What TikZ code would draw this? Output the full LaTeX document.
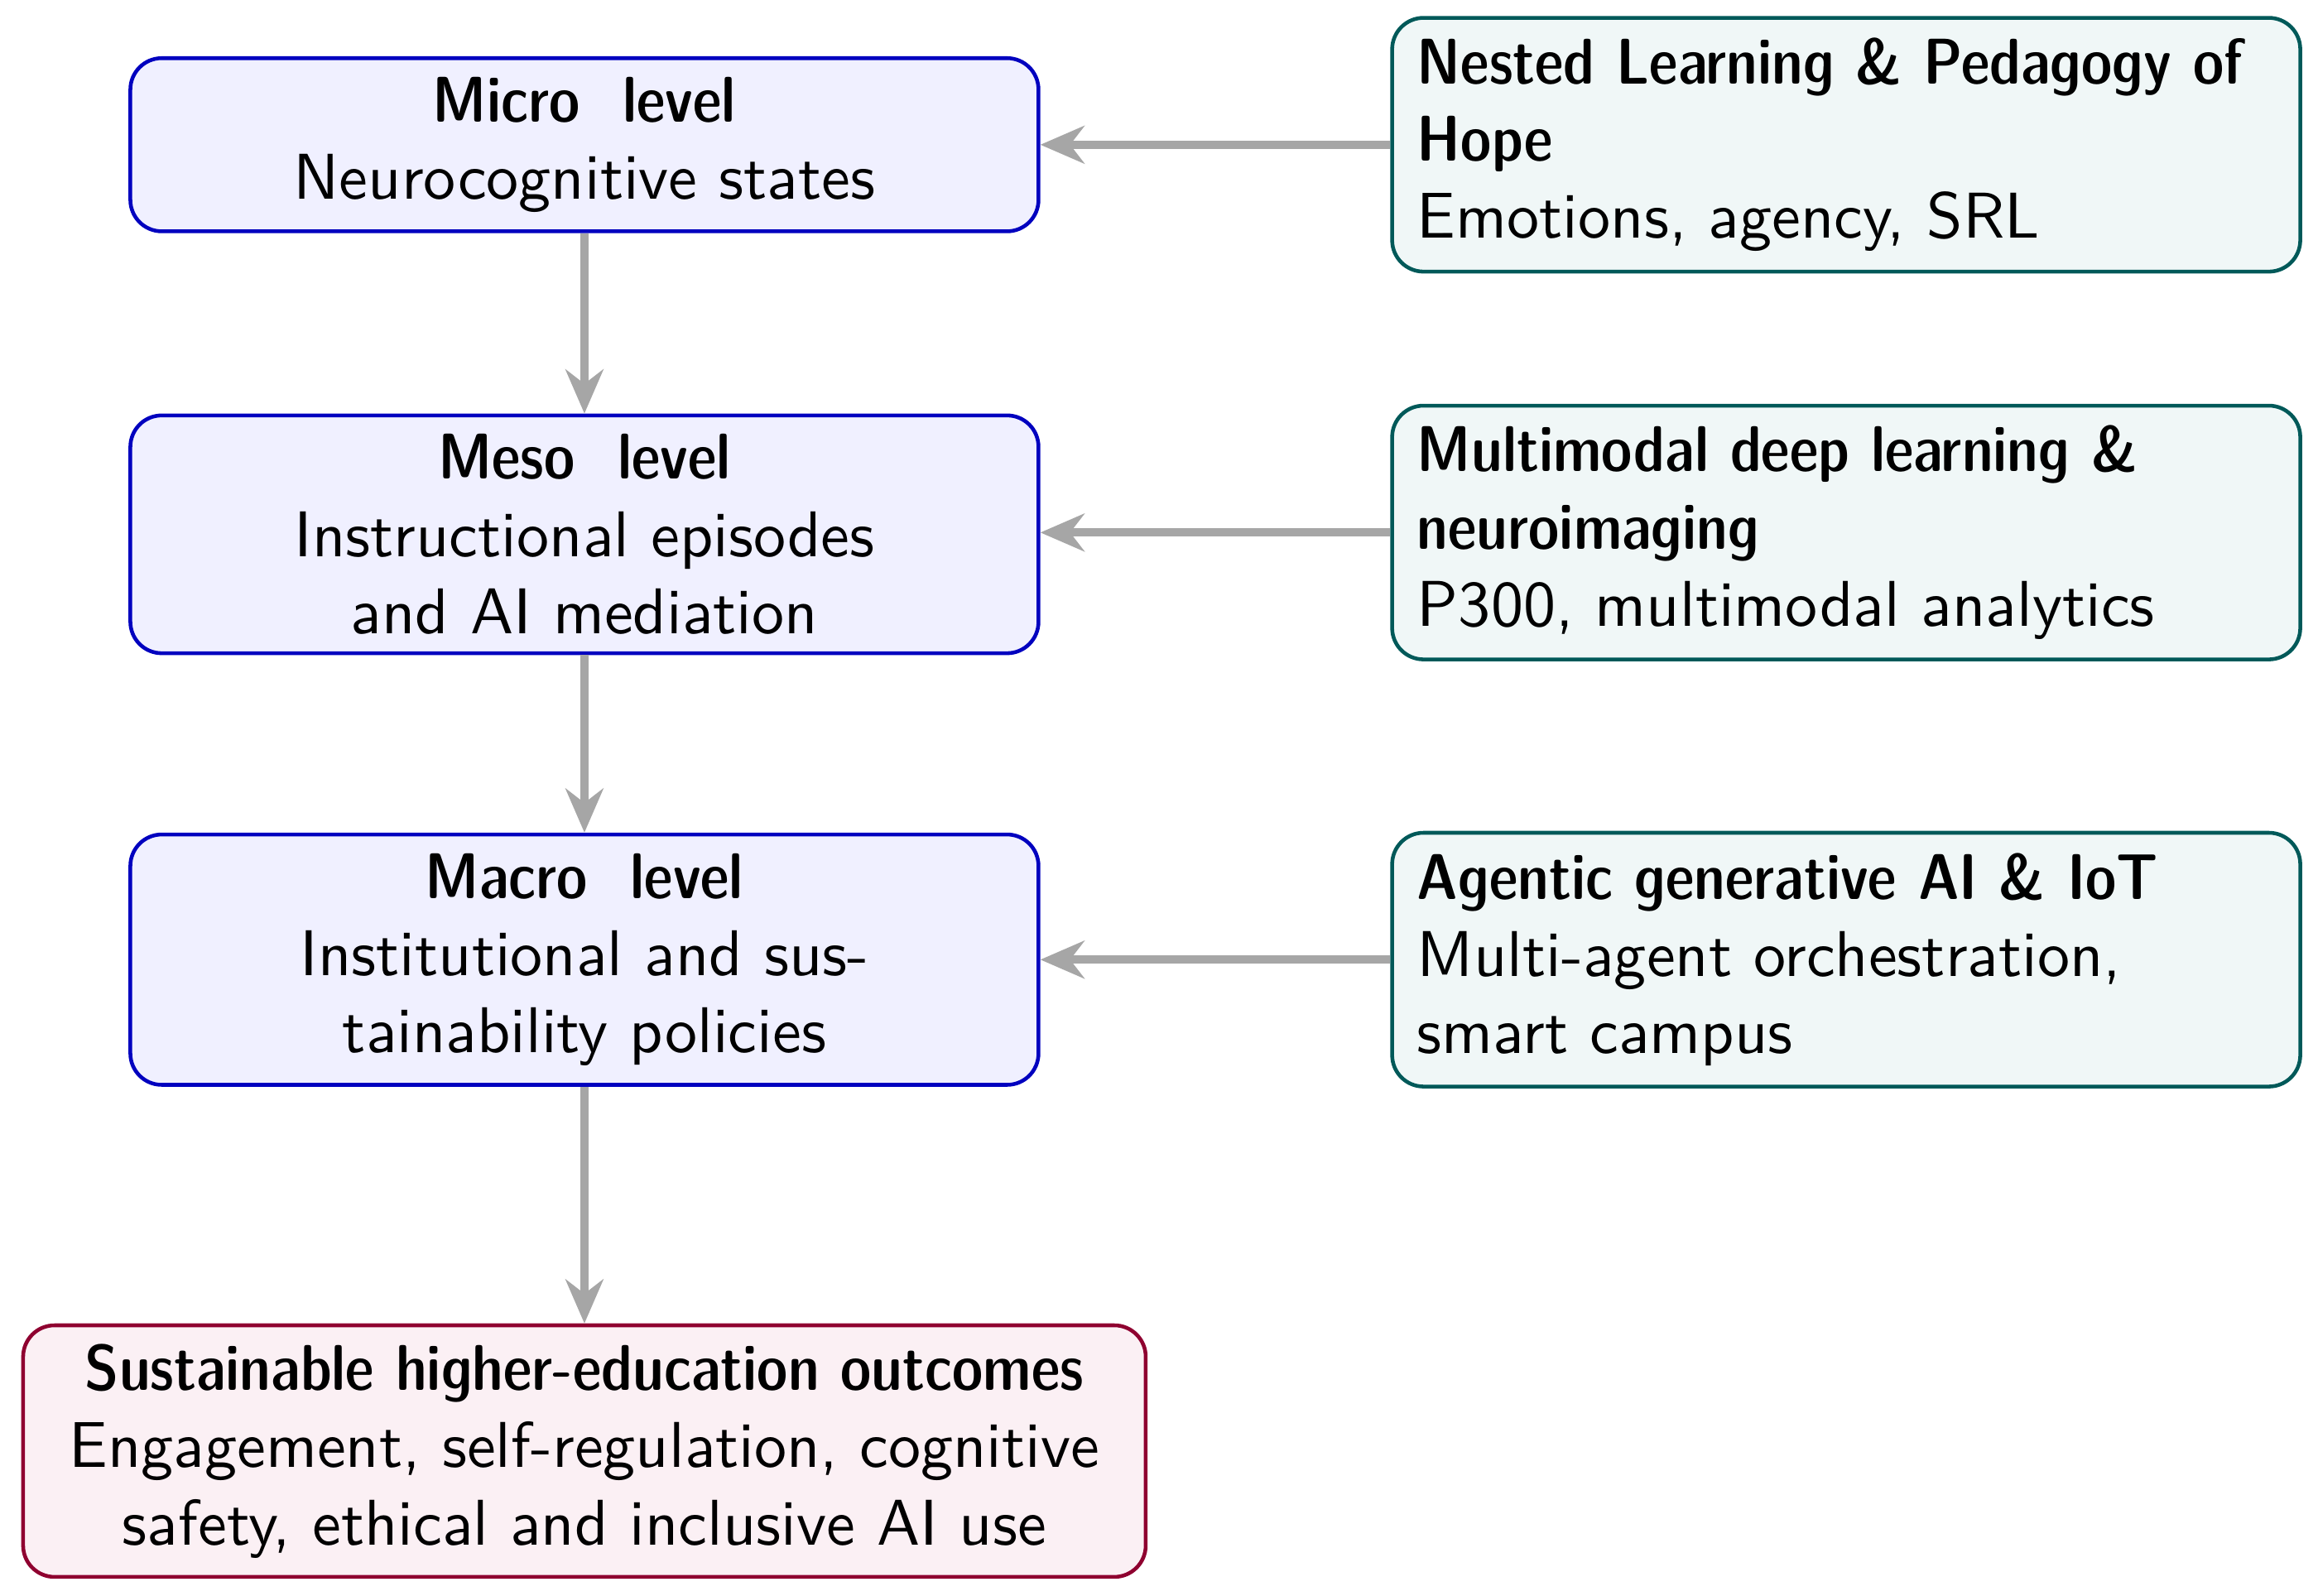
\documentclass[tikz,border=0pt]{standalone}
\usetikzlibrary{arrows.meta}
\newcommand{\headline}[1]{{\fontseries{sbc}\selectfont #1}}
\begin{document}
\begin{tikzpicture}[font=\sffamily\fontsize{10.3}{12.3}\selectfont,
  level/.style = {draw=blue!75!black, fill=blue!6, rounded corners=5pt, line width=0.6pt,
                  text width=4.8cm, align=center, inner xsep=4pt, inner ysep=3pt},
  tech/.style = {draw=teal!70!black, fill=teal!6, rounded corners=5pt, line width=0.6pt,
                 text width=4.8cm, align=left, inner xsep=4pt, inner ysep=3pt,
                 minimum height=1.42cm},
  outcome/.style = {draw=purple!75!black, fill=purple!6, rounded corners=5pt, line width=0.6pt,
                    text width=6.0cm, align=center, inner xsep=4pt, inner ysep=3pt},
  link/.style = {draw=gray!70, line width=1.3pt, -{Stealth[length=7pt,width=6pt]}}]

\useasboundingbox (0,0) rectangle (12.97,-8.93);

\node[level] (micro) at (3.27,-0.81) {\headline{Micro\ \ level}\\Neurocognitive states};
\node[level] (meso) at (3.27,-2.99) {\headline{Meso\ \ level}\\Instructional episodes\\and AI mediation};
\node[level] (macro) at (3.27,-5.37) {\headline{Macro\ \ level}\\Institutional and sus-\\tainability policies};
\node[outcome] (out) at (3.27,-8.12) {\headline{Sustainable higher-education outcomes}\\Engagement, self-regulation, cognitive\\safety, ethical and inclusive AI use};

\node[tech] (hope) at (10.33,-0.81) {\headline{Nested Learning \& Pedagogy of\\Hope}\\Emotions, agency, SRL};
\node[tech] (deep) at (10.33,-2.98) {\headline{Multimodal deep learning \&\\neuroimaging}\\P300, multimodal analytics};
\node[tech] (agent) at (10.33,-5.37) {\headline{Agentic generative AI \& IoT}\\Multi-agent orchestration,\\smart campus};

\draw[link] (micro) -- (meso);
\draw[link] (meso) -- (macro);
\draw[link] (macro) -- (out);

\draw[link] (hope.west) -- (hope.west -| micro.east);
\draw[link] (deep.west) -- (deep.west -| meso.east);
\draw[link] (agent.west) -- (agent.west -| macro.east);
\end{tikzpicture}
\end{document}
